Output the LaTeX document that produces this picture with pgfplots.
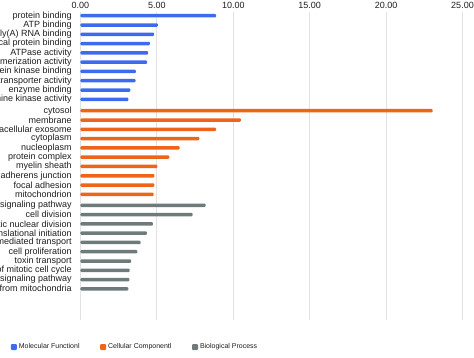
\documentclass[border=0pt]{standalone}
\usepackage{pgfplots}
\pgfplotsset{compat=1.18}
\usepackage{fontspec}
\setmainfont{Liberation Sans}
\definecolor{mfblue}{RGB}{61,107,240}
\definecolor{ccorange}{RGB}{238,100,24}
\definecolor{bpgrey}{RGB}{110,123,123}
\definecolor{gridgrey}{RGB}{226,226,226}
\definecolor{txt}{RGB}{30,30,30}
\begin{document}
\begin{tikzpicture}
\begin{axis}[
  at={(80.5pt,-12pt)}, anchor=north west,
  scale only axis, width=382pt, height=308pt,
  xmin=0, xmax=25, ymin=-0.4, ymax=32.76,
  y dir=reverse,
  xbar, bar width=3.5pt, bar shift=0pt,
  axis line style={draw=none},
  tick style={draw=none},
  xmajorgrids, grid style={gridgrey, line width=0.8pt},
  xtick={0,5,10,15,20,25},
  xticklabels={0.00,5.00,10.00,15.00,20.00,25.00},
  xticklabel pos=upper,
  xticklabel style={font=\fontsize{9}{10}\selectfont, text=txt, anchor=base, yshift=3.5pt},
  ytick={0,1,2,3,4,5,6,7,8,9,10.23,11.23,12.23,13.23,14.23,15.23,16.23,17.23,18.23,19.23,20.41,21.41,22.41,23.41,24.41,25.41,26.41,27.41,28.41,29.41},
  yticklabels={protein binding,ATP binding,poly(A) RNA binding,identical protein binding,ATPase activity,protein homodimerization activity,protein kinase binding,transmembrane transporter activity,enzyme binding,protein serine/threonine kinase activity,
    cytosol,membrane,extracellular exosome,cytoplasm,nucleoplasm,protein complex,myelin sheath,cell-cell adherens junction,focal adhesion,mitochondrion,
    apoptotic signaling pathway,cell division,mitotic nuclear division,translational initiation,vesicle-mediated transport,cell proliferation,toxin transport,regulation of mitotic cell cycle,kinase signaling pathway,release of cytochrome c from mitochondria},
  yticklabel style={font=\fontsize{9}{10}\selectfont, text=txt, anchor=east, xshift=-1pt},
  legend columns=3,
  legend style={draw=none, fill=none, inner sep=0pt, at={(rel axis cs:-0.1827,-0.0877)}, anchor=west,
    font=\fontsize{7}{8}\selectfont, text=txt,
    /tikz/every even column/.append style={column sep=18.5pt}},
  legend image code/.code={\fill[#1] (0pt,-3pt) rectangle (6pt,3pt);},
]
\addplot[fill=mfblue, draw=none, rounded corners=1pt] coordinates {
 (8.88,0) (5.06,1) (4.82,2) (4.54,3) (4.43,4) (4.36,5) (3.62,6) (3.60,7) (3.27,8) (3.14,9)};
\addlegendentry{Molecular Functionl}
\addplot[fill=ccorange, draw=none, rounded corners=1pt] coordinates {
 (23.05,10.23) (10.50,11.23) (8.87,12.23) (7.78,13.23) (6.49,14.23) (5.81,15.23) (5.03,16.23) (4.83,17.23) (4.83,18.23) (4.79,19.23)};
\addlegendentry{Cellular Componentl}
\addplot[fill=bpgrey, draw=none, rounded corners=1pt] coordinates {
 (8.19,20.41) (7.34,21.41) (4.74,22.41) (4.35,23.41) (3.94,24.41) (3.72,25.41) (3.32,26.41) (3.22,27.41) (3.20,28.41) (3.13,29.41)};
\addlegendentry{Biological Process}
\end{axis}
\pgfresetboundingbox
\path[use as bounding box] (0pt,0pt) rectangle (474pt,-357pt);
\end{tikzpicture}
\end{document}
